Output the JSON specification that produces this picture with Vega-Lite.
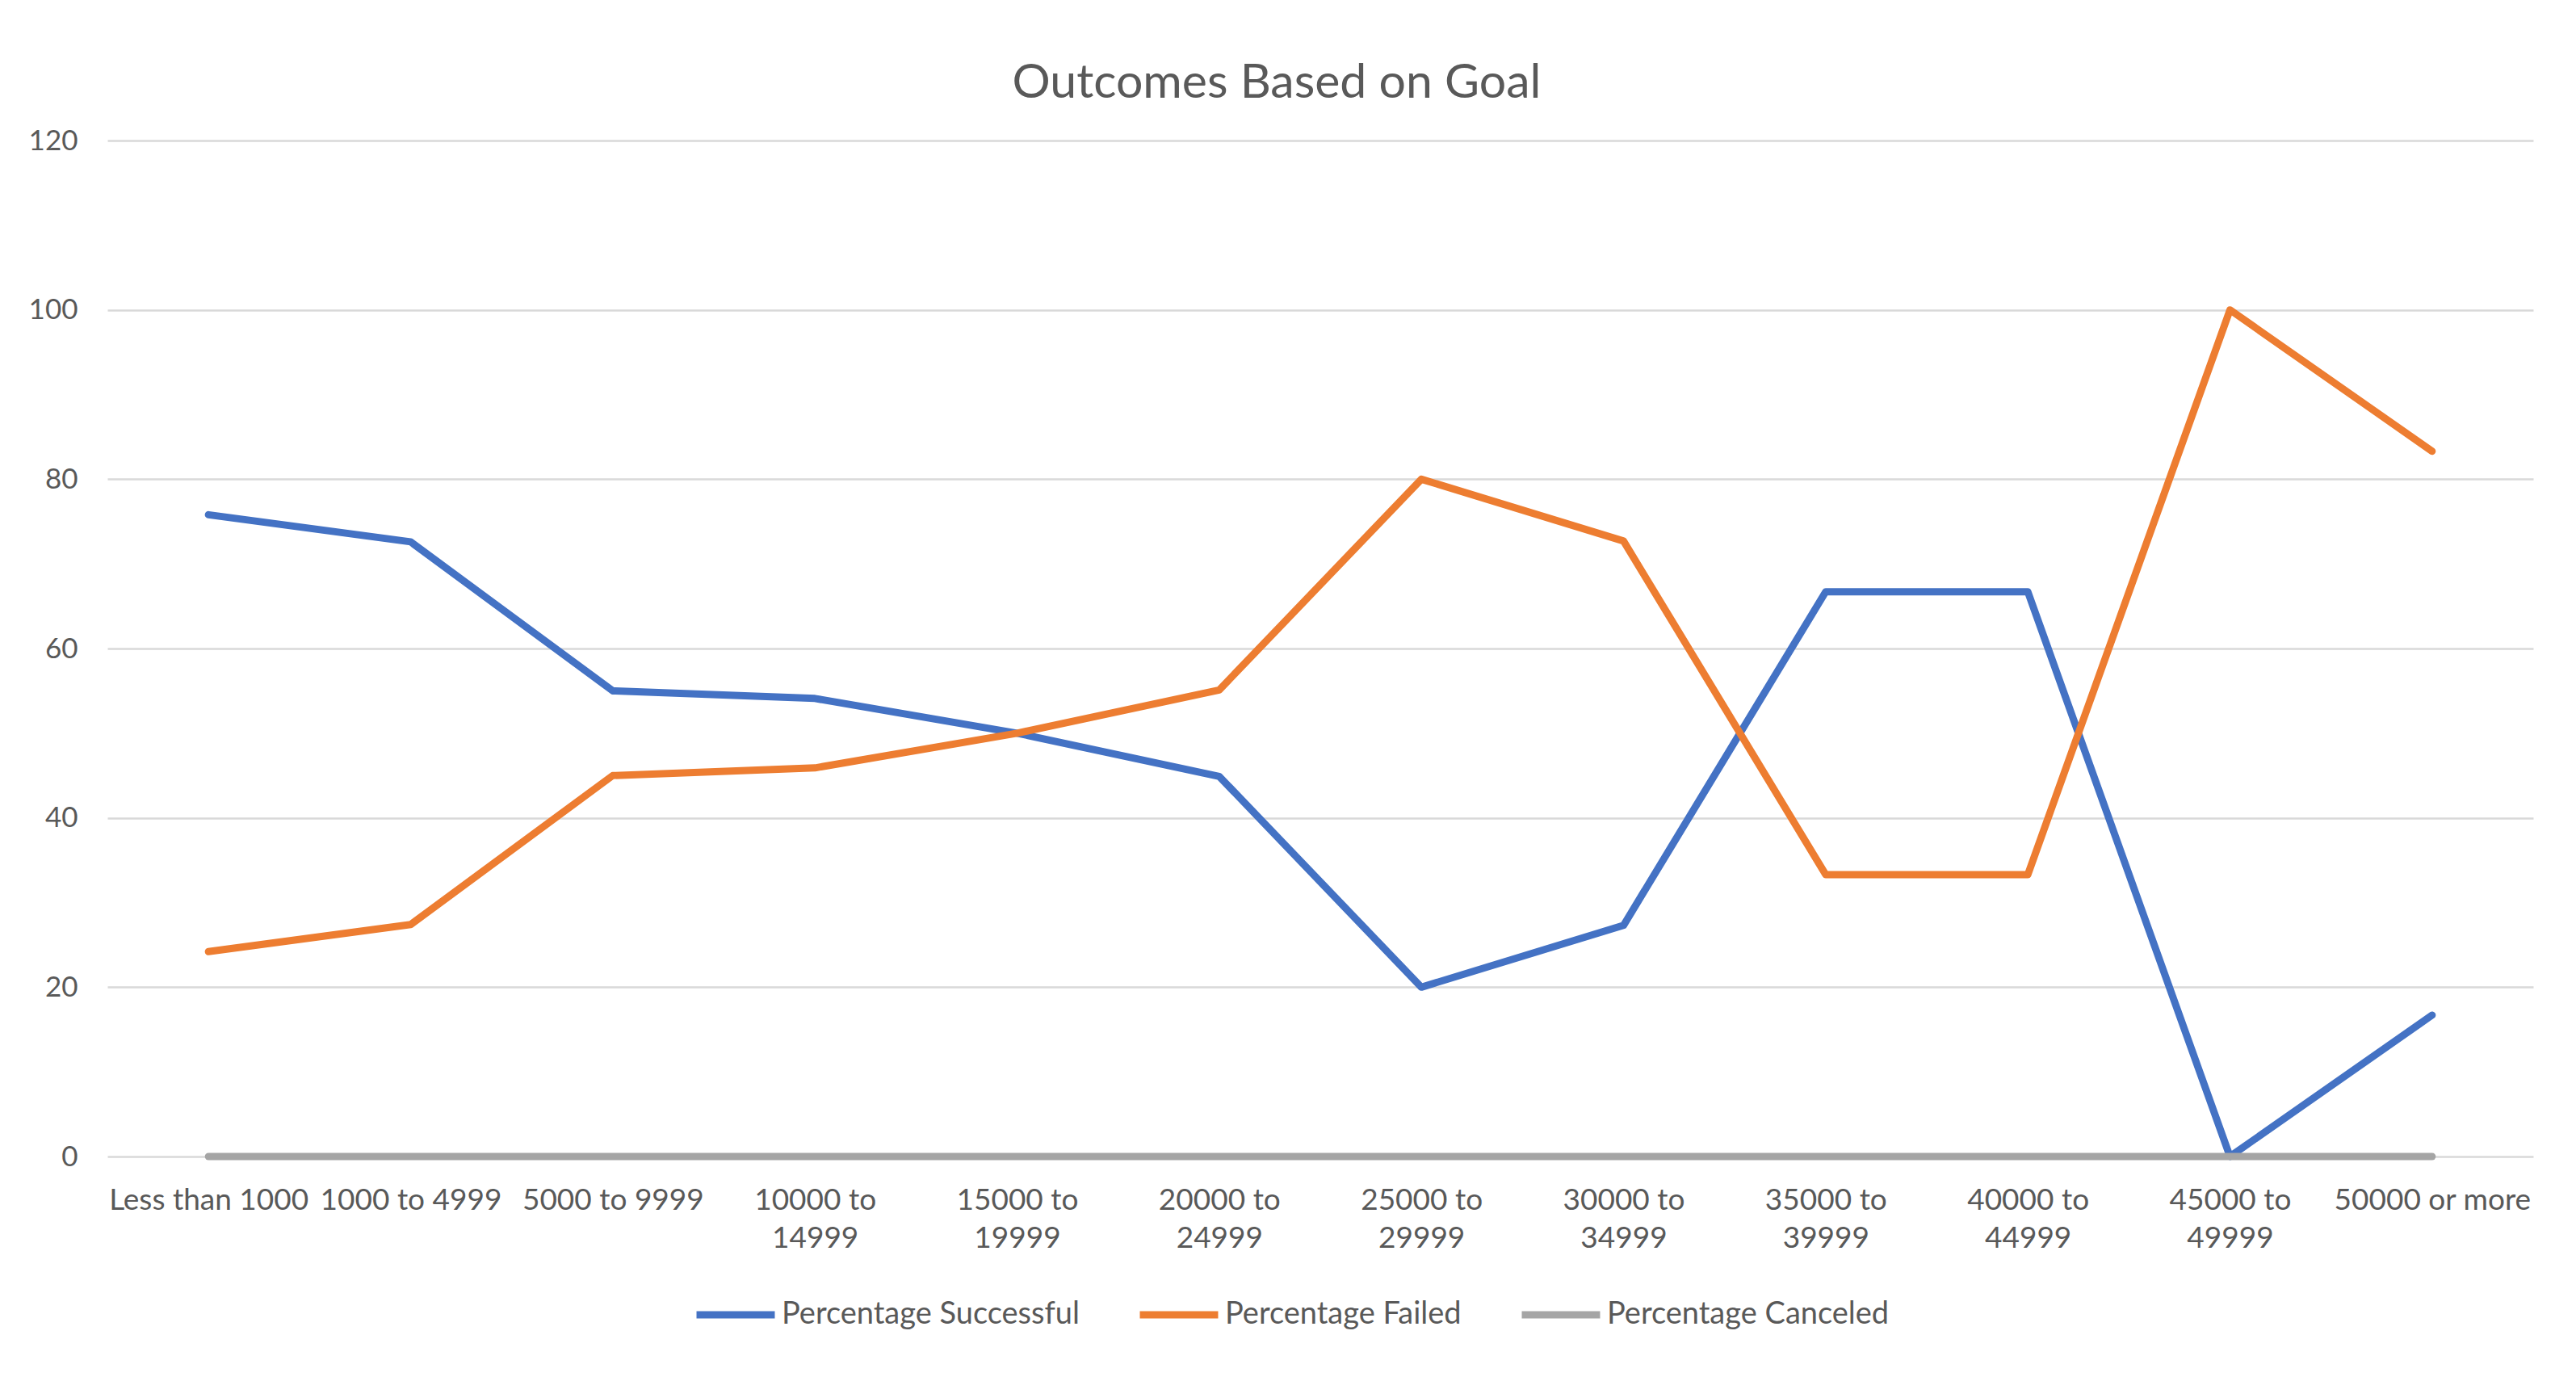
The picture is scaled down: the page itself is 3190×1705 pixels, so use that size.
{
  "$schema": "https://vega.github.io/schema/vega-lite/v6.json",
  "width": 3004,
  "height": 1258,
  "padding": {"left": 35, "top": 74, "right": 50, "bottom": 20},
  "background": "white",
  "title": {
    "text": "Outcomes Based on Goal",
    "fontSize": 59,
    "font": "Lato",
    "fontWeight": "normal",
    "color": "#595959",
    "anchor": "middle",
    "dx": -54,
    "offset": 24
  },
  "data": {
    "values": [
      {"goal": "Less than 1000", "outcome": "Percentage Successful", "pct": 75.8},
      {"goal": "1000 to 4999", "outcome": "Percentage Successful", "pct": 72.6},
      {"goal": "5000 to 9999", "outcome": "Percentage Successful", "pct": 55.0},
      {"goal": "10000 to 14999", "outcome": "Percentage Successful", "pct": 54.1},
      {"goal": "15000 to 19999", "outcome": "Percentage Successful", "pct": 50.0},
      {"goal": "20000 to 24999", "outcome": "Percentage Successful", "pct": 44.9},
      {"goal": "25000 to 29999", "outcome": "Percentage Successful", "pct": 20.0},
      {"goal": "30000 to 34999", "outcome": "Percentage Successful", "pct": 27.3},
      {"goal": "35000 to 39999", "outcome": "Percentage Successful", "pct": 66.7},
      {"goal": "40000 to 44999", "outcome": "Percentage Successful", "pct": 66.7},
      {"goal": "45000 to 49999", "outcome": "Percentage Successful", "pct": 0},
      {"goal": "50000 or more", "outcome": "Percentage Successful", "pct": 16.7},
      {"goal": "Less than 1000", "outcome": "Percentage Failed", "pct": 24.2},
      {"goal": "1000 to 4999", "outcome": "Percentage Failed", "pct": 27.4},
      {"goal": "5000 to 9999", "outcome": "Percentage Failed", "pct": 45.0},
      {"goal": "10000 to 14999", "outcome": "Percentage Failed", "pct": 45.9},
      {"goal": "15000 to 19999", "outcome": "Percentage Failed", "pct": 50.0},
      {"goal": "20000 to 24999", "outcome": "Percentage Failed", "pct": 55.1},
      {"goal": "25000 to 29999", "outcome": "Percentage Failed", "pct": 80.0},
      {"goal": "30000 to 34999", "outcome": "Percentage Failed", "pct": 72.7},
      {"goal": "35000 to 39999", "outcome": "Percentage Failed", "pct": 33.3},
      {"goal": "40000 to 44999", "outcome": "Percentage Failed", "pct": 33.3},
      {"goal": "45000 to 49999", "outcome": "Percentage Failed", "pct": 100},
      {"goal": "50000 or more", "outcome": "Percentage Failed", "pct": 83.3},
      {"goal": "Less than 1000", "outcome": "Percentage Canceled", "pct": 0},
      {"goal": "1000 to 4999", "outcome": "Percentage Canceled", "pct": 0},
      {"goal": "5000 to 9999", "outcome": "Percentage Canceled", "pct": 0},
      {"goal": "10000 to 14999", "outcome": "Percentage Canceled", "pct": 0},
      {"goal": "15000 to 19999", "outcome": "Percentage Canceled", "pct": 0},
      {"goal": "20000 to 24999", "outcome": "Percentage Canceled", "pct": 0},
      {"goal": "25000 to 29999", "outcome": "Percentage Canceled", "pct": 0},
      {"goal": "30000 to 34999", "outcome": "Percentage Canceled", "pct": 0},
      {"goal": "35000 to 39999", "outcome": "Percentage Canceled", "pct": 0},
      {"goal": "40000 to 44999", "outcome": "Percentage Canceled", "pct": 0},
      {"goal": "45000 to 49999", "outcome": "Percentage Canceled", "pct": 0},
      {"goal": "50000 or more", "outcome": "Percentage Canceled", "pct": 0}
    ]
  },
  "mark": {"type": "line", "strokeWidth": 9, "strokeCap": "round", "strokeJoin": "round"},
  "encoding": {
    "x": {
      "field": "goal",
      "type": "ordinal",
      "sort": null,
      "scale": {"padding": 0.5},
      "axis": {
        "title": null,
        "labelAngle": 0,
        "ticks": false,
        "domain": false,
        "grid": false,
        "labelLimit": 0,
        "labelFontSize": 37,
        "labelPadding": 54,
        "labelBaseline": "middle",
        "labelLineHeight": 47,
        "labelExpr": "indexof(datum.label, ' to ') > 0 && length(datum.label) > 12 ? [substring(datum.label, 0, 8), substring(datum.label, 9)] : datum.label"
      }
    },
    "y": {
      "field": "pct",
      "type": "quantitative",
      "scale": {"domain": [0, 120]},
      "axis": {
        "title": null,
        "values": [0, 20, 40, 60, 80, 100, 120],
        "ticks": false,
        "domain": false,
        "labelPadding": 37,
        "gridColor": "#D9D9D9",
        "gridWidth": 2.5
      }
    },
    "color": {
      "field": "outcome",
      "type": "nominal",
      "sort": null,
      "scale": {
        "domain": ["Percentage Successful", "Percentage Failed", "Percentage Canceled"],
        "range": ["#4472C4", "#ED7D31", "#A5A5A5"]
      },
      "legend": {
        "title": null,
        "orient": "none",
        "legendX": 725,
        "legendY": 1401,
        "direction": "horizontal",
        "symbolType": "stroke",
        "symbolSize": 9400,
        "symbolStrokeWidth": 9,
        "labelOffset": 4,
        "labelLimit": 0,
        "labelFontSize": 38,
        "columnPadding": 56
      }
    }
  },
  "config": {
    "font": "Lato",
    "view": {"stroke": null},
    "axis": {"labelFont": "Lato", "labelFontSize": 35, "labelColor": "#595959"},
    "legend": {"labelFont": "Lato", "labelFontSize": 35, "labelColor": "#595959"}
  }
}
